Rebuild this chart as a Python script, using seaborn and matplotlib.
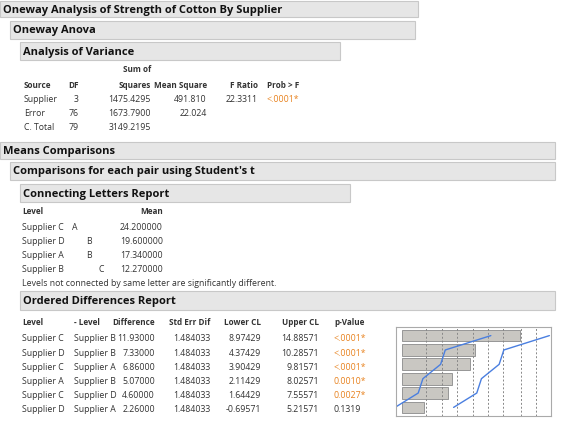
import matplotlib
matplotlib.use("Agg")
import matplotlib.pyplot as plt
import seaborn as sns
import pandas as pd
from matplotlib.patches import Rectangle

sns.set_style("white")
plt.rcParams['font.family'] = ['Open Sans', 'DejaVu Sans']

W, H = 574, 427
fig = plt.figure(figsize=(W/100, H/100), dpi=100)

# ---- data ----
anova_source = ["Supplier", "Error", "C. Total"]
anova_df = ["3", "76", "79"]
anova_ss = ["1475.4295", "1673.7900", "3149.2195"]
anova_ms = ["491.810", "22.024", ""]
anova_f = ["22.3311", "", ""]
anova_p = ["<.0001*", "", ""]

cl_level = ["Supplier C", "Supplier D", "Supplier A", "Supplier B"]
cl_letters = [("A", ""), ("B", ""), ("B", ""), ("", "C")]
cl_mean = ["24.200000", "19.600000", "17.340000", "12.270000"]

od_level = ["Supplier C", "Supplier D", "Supplier C", "Supplier A", "Supplier C", "Supplier D"]
od_minus = ["Supplier B", "Supplier B", "Supplier A", "Supplier B", "Supplier D", "Supplier A"]
od_diff = [11.93, 7.33, 6.86, 5.07, 4.60, 2.26]
od_se = [1.484033] * 6
od_lower = [8.97429, 4.37429, 3.90429, 2.11429, 1.64429, -0.69571]
od_upper = [14.88571, 10.28571, 9.81571, 8.02571, 7.55571, 5.21571]
od_p = ["<.0001*", "<.0001*", "<.0001*", "0.0010*", "0.0027*", "0.1319"]
od_sig = [True, True, True, True, True, False]
grid_vals = [2.4, 4.0, 5.6, 7.2, 8.7, 10.2, 12.0, 13.5]

ORANGE = "#e8821e"
FS = 6.3

def fx(x): return x / W
def fy(y): return 1 - y / H

def header(x0, x1, y0, y1, text, fs=8):
    fig.patches.append(Rectangle((fx(x0), fy(y1)), fx(x1 - x0), (y1 - y0) / H,
                                 transform=fig.transFigure, facecolor="#e6e6e6",
                                 edgecolor="#c8c8c8", lw=0.8))
    fig.text(fx(x0 + 3), fy((y0 + y1) / 2), text, fontsize=fs, fontweight="bold",
             va="center", ha="left", color="#111111")

def t(x, y, s, ha="left", bold=False, color="#333333"):
    fig.text(fx(x), fy(y), s, fontsize=5.9 if bold else FS, ha=ha, va="center",
             fontweight="bold" if bold else "normal", color=color)

header(0, 418, 2, 18, "Oneway Analysis of Strength of Cotton By Supplier")
header(10, 415, 22, 40, "Oneway Anova")
header(20, 340, 43, 61, "Analysis of Variance")

t(151, 70, "Sum of", ha="right", bold=True)
for x, s, ha in [(24, "Source", "left"), (79, "DF", "right"), (151, "Squares", "right"),
                 (207, "Mean Square", "right"), (258, "F Ratio", "right"), (299, "Prob > F", "right")]:
    t(x, 85, s, ha=ha, bold=True)
for i in range(3):
    y = 100 + i * 13.5
    t(24, y, anova_source[i])
    t(79, y, anova_df[i], ha="right")
    t(151, y, anova_ss[i], ha="right")
    t(207, y, anova_ms[i], ha="right")
    t(258, y, anova_f[i], ha="right")
    t(299, y, anova_p[i], ha="right", color=ORANGE)

header(0, 555, 143, 160, "Means Comparisons")
header(10, 555, 163, 181, "Comparisons for each pair using Student's t")
header(20, 350, 185, 203, "Connecting Letters Report")
t(22, 212, "Level", bold=True)
t(163, 212, "Mean", ha="right", bold=True)
for i in range(4):
    y = 228 + i * 14
    t(22, y, cl_level[i])
    a, c = cl_letters[i]
    if a == "A":
        t(72, y, a)
    else:
        t(86, y, a)
    t(98, y, c)
    t(163, y, cl_mean[i], ha="right")
t(22, 284, "Levels not connected by same letter are significantly different.")

header(20, 555, 292, 311, "Ordered Differences Report")
for x, s, ha in [(22, "Level", "left"), (74, "- Level", "left"), (155, "Difference", "right"),
                 (210, "Std Err Dif", "right"), (261, "Lower CL", "right"),
                 (319, "Upper CL", "right"), (334, "p-Value", "left")]:
    t(x, 323, s, ha=ha, bold=True)
for i in range(6):
    y = 339 + i * 14.2
    t(22, y, od_level[i])
    t(74, y, od_minus[i])
    t(155, y, f"{od_diff[i]:.5f}", ha="right")
    t(210, y, f"{od_se[i]:.6f}", ha="right")
    t(261, y, f"{od_lower[i]:.5f}", ha="right")
    t(319, y, f"{od_upper[i]:.5f}", ha="right")
    t(334, y, od_p[i], color=ORANGE if od_sig[i] else "#333333")

# ---- chart ----
ax = fig.add_axes([fx(396), fy(417), fx(551 - 396), (417 - 328) / H])
df = pd.DataFrame({"row": list(range(6)), "diff": od_diff})
for g in grid_vals:
    ax.axvline(g, color="#888888", lw=0.7, ls=(0, (2, 2)))
sns.barplot(data=df, x="diff", y="row", orient="h", ax=ax, color="#c9c7c2",
            edgecolor="#8a8a8a", linewidth=0.6, width=0.82, saturation=1)
ax.plot(od_lower, list(range(6)), color="#4a7fe0", lw=1)
ax.plot(od_upper, list(range(6)), color="#4a7fe0", lw=1)
ax.set_xlim(-0.6, 15.05)
ax.set_ylim(5.6, -0.6)
ax.set_xticks([]); ax.set_yticks([])
ax.set_xlabel(""); ax.set_ylabel("")
ax.set_facecolor("white")
for s in ax.spines.values():
    s.set_color("#aaaaaa"); s.set_linewidth(0.8)

fig.savefig("out.png", dpi=100)
